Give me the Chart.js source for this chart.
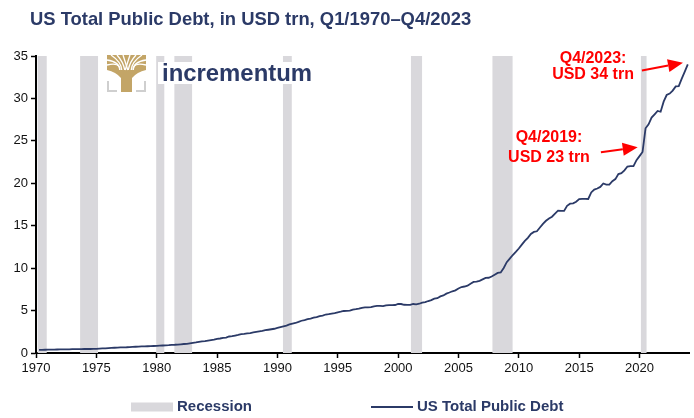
<!DOCTYPE html>
<html>
<head>
<meta charset="utf-8">
<script src="https://cdn.jsdelivr.net/npm/chart.js@4.4.1/dist/chart.umd.min.js"></script>
<style>
  body { margin: 0; background: #fff; }
  #wrap { width: 694px; height: 418px; }
</style>
</head>
<body>
<div id="wrap"><canvas id="myChart" width="694" height="418"></canvas></div>
<script>
// US total public debt, USD trn, quarterly Q1/1970 - Q4/2023
const firstYear = 1970;
const lastYear = 2023;

const debt1970s = [
  0.372, 0.370, 0.383, 0.389,  0.391, 0.400, 0.414, 0.424,
  0.428, 0.427, 0.436, 0.449,  0.458, 0.458, 0.466, 0.469,
  0.474, 0.474, 0.482, 0.492,  0.510, 0.534, 0.556, 0.576,
  0.599, 0.620, 0.634, 0.653,  0.665, 0.675, 0.698, 0.718,
  0.736, 0.750, 0.771, 0.789,  0.797, 0.805, 0.826, 0.845
];
const debt1980s = [
  0.863, 0.884, 0.907, 0.930,  0.964, 0.971, 0.997, 1.028,
  1.062, 1.080, 1.142, 1.197,  1.245, 1.319, 1.377, 1.410,
  1.463, 1.518, 1.572, 1.663,  1.710, 1.774, 1.823, 1.945,
  1.986, 2.059, 2.125, 2.214,  2.250, 2.310, 2.350, 2.431,
  2.487, 2.547, 2.602, 2.684,  2.740, 2.799, 2.857, 2.953
];
const debt1990s = [
  3.053, 3.143, 3.233, 3.365,  3.465, 3.538, 3.665, 3.801,
  3.881, 3.984, 4.065, 4.177,  4.230, 4.352, 4.411, 4.535,
  4.576, 4.646, 4.693, 4.800,  4.864, 4.951, 4.974, 4.989,
  5.118, 5.161, 5.225, 5.323,  5.380, 5.376, 5.413, 5.502,
  5.542, 5.548, 5.526, 5.614,  5.651, 5.638, 5.656, 5.776
];
const debt2000s = [
  5.773, 5.686, 5.674, 5.662,  5.773, 5.727, 5.807, 5.943,
  6.006, 6.126, 6.228, 6.405,  6.460, 6.670, 6.783, 6.998,
  7.131, 7.274, 7.379, 7.596,  7.777, 7.836, 7.933, 8.170,
  8.371, 8.420, 8.507, 8.680,  8.849, 8.867, 9.008, 9.229,
  9.437, 9.492, 10.025, 10.700, 11.127, 11.545, 11.910, 12.311
];
const debt2010s = [
  12.773, 13.202, 13.562, 14.025,  14.270, 14.343, 14.790, 15.223,
  15.582, 15.856, 16.066, 16.433,  16.771, 16.738, 16.738, 17.352,
  17.601, 17.632, 17.824, 18.141,  18.152, 18.152, 18.151, 18.922,
  19.264, 19.382, 19.573, 19.977,  19.846, 19.845, 20.245, 20.493,
  21.090, 21.195, 21.516, 21.974,  22.028, 22.023, 22.719, 23.201
];
const debt2020s = [
  23.687, 26.477, 26.945, 27.748,  28.133, 28.529, 28.429, 29.617,
  30.401, 30.569, 30.929, 31.420,  31.458, 32.332, 33.167, 34.001
];

// recession periods (decimal years)
const recessionStart = [1970.12, 1973.65, 1979.95, 1981.45, 1990.45, 2001.05, 2007.8, 2020.1];
const recessionEnd   = [1970.9, 1975.15, 1980.65, 1982.95, 1991.2, 2002.0, 2009.5, 2020.6];

const xTicks = [1970, 1975, 1980, 1985, 1990, 1995, 2000, 2005, 2010, 2015, 2020];
const yTicks = [0, 5, 10, 15, 20, 25, 30, 35];

const titleText = 'US Total Public Debt, in USD trn, Q1/1970\u2013Q4/2023';
const debtLabel = 'US Total Public Debt';
const recessionLabel = 'Recession';

const NAVY = '#2b3a67';
const GREY = '#d9d8dc';
const FONT = "'Liberation Sans', Arial, sans-serif";

// quarter categories -> x position (end of quarter)
const quarterLabels = [];
for (let y = firstYear; y <= lastYear; y++) {
  for (let q = 1; q <= 4; q++) quarterLabels.push('Q' + q + '/' + y);
}
const debtValues = [].concat(debt1970s, debt1980s, debt1990s, debt2000s, debt2010s, debt2020s);
const debtPoints = quarterLabels.map((lbl, i) => {
  const parts = lbl.slice(1).split('/').map(Number);
  return { x: parts[1] + parts[0] / 4, y: debtValues[i] };
});

const yMax = yTicks[yTicks.length - 1];
const recessionPoints = [];
recessionStart.forEach((s, i) => {
  recessionPoints.push({ x: s, y: yMax }, { x: recessionEnd[i], y: yMax }, { x: recessionEnd[i], y: null });
});

const notes = [
  { lines: ['Q4/2023:', 'USD 34 trn'], x: 2016.15, y: [34.7, 32.75], from: [2020.2, 33.3], to: [2023.6, 34.2] },
  { lines: ['Q4/2019:', 'USD 23 trn'], x: 2012.5, y: [25.35, 23.05], from: [2016.8, 23.65], to: [2019.85, 24.25] }
];

function arrow(ctx, x1, y1, x2, y2) {
  const a = Math.atan2(y2 - y1, x2 - x1);
  const len = 15, hw = 6.5;
  const bx = x2 - len * Math.cos(a), by = y2 - len * Math.sin(a);
  ctx.beginPath();
  ctx.moveTo(x1, y1);
  ctx.lineTo(bx, by);
  ctx.stroke();
  ctx.beginPath();
  ctx.moveTo(x2, y2);
  ctx.lineTo(bx + hw * Math.sin(a), by - hw * Math.cos(a));
  ctx.lineTo(bx - hw * Math.sin(a), by + hw * Math.cos(a));
  ctx.closePath();
  ctx.fill();
}

const decor = {
  id: 'decor',
  afterDraw(chart) {
    const ctx = chart.ctx;
    const xs = chart.scales.x, ys = chart.scales.y;
    ctx.save();

    // title
    ctx.fillStyle = NAVY;
    ctx.font = 'bold 18.4px ' + FONT;
    ctx.textAlign = 'left';
    ctx.textBaseline = 'middle';
    ctx.fillText(titleText, 30, 20);

    // logo: tree mark
    const gold = '#c3a567';
    ctx.fillStyle = gold;
    ctx.beginPath();
    ctx.moveTo(107, 55); ctx.lineTo(146, 55); ctx.lineTo(146, 70);
    ctx.quadraticCurveTo(137, 72, 132, 78); ctx.lineTo(132, 92); ctx.lineTo(121, 92); ctx.lineTo(121, 78);
    ctx.quadraticCurveTo(116, 72, 107, 70);
    ctx.closePath(); ctx.fill();
    // white gaps between branches
    ctx.strokeStyle = '#fff';
    ctx.lineWidth = 1.3;
    const gaps = [[107, 60], [107, 65], [111, 55], [117, 55], [123, 55], [130, 55], [136, 55], [142, 55], [146, 60], [146, 65]];
    gaps.forEach(t => {
      ctx.beginPath();
      ctx.moveTo((126.5 + t[0]) / 2 + (t[0] < 126 ? 3 : -3), 70);
      ctx.quadraticCurveTo((126.5 * 2 + t[0]) / 3, 62, t[0], t[1]);
      ctx.stroke();
    });
    ctx.strokeStyle = '#cfcfcf';
    ctx.lineWidth = 2;
    ctx.beginPath();
    ctx.moveTo(108, 81); ctx.lineTo(108, 91); ctx.lineTo(117, 91);
    ctx.moveTo(145, 81); ctx.lineTo(145, 91); ctx.lineTo(136, 91);
    ctx.stroke();

    // logo: word mark
    ctx.fillStyle = '#fff';
    ctx.fillRect(158, 62, 158, 22);
    ctx.fillStyle = NAVY;
    ctx.font = 'bold 22px ' + FONT;
    const w = ctx.measureText('incrementum').width;
    const fs = 22 * 150 / w;
    ctx.font = 'bold ' + fs.toFixed(1) + 'px ' + FONT;
    ctx.fillText('incrementum', 162, 74);

    // annotations
    ctx.fillStyle = '#ff0000';
    ctx.strokeStyle = '#ff0000';
    ctx.lineWidth = 2;
    ctx.font = 'bold 16px ' + FONT;
    ctx.textAlign = 'center';
    notes.forEach(n => {
      n.lines.forEach((t, i) => ctx.fillText(t, xs.getPixelForValue(n.x), ys.getPixelForValue(n.y[i])));
      arrow(ctx, xs.getPixelForValue(n.from[0]), ys.getPixelForValue(n.from[1]),
                 xs.getPixelForValue(n.to[0]), ys.getPixelForValue(n.to[1]));
    });

    // legend
    const ds = chart.data.datasets;
    const ly = 407;
    ctx.textAlign = 'left';
    ctx.font = 'bold 15px ' + FONT;
    ctx.fillStyle = ds[1].backgroundColor;
    ctx.fillRect(131, ly - 4.5, 42, 9);
    ctx.fillStyle = NAVY;
    ctx.fillText(ds[1].label, 177, ly);
    ctx.strokeStyle = ds[0].borderColor;
    ctx.lineWidth = 2;
    ctx.beginPath();
    ctx.moveTo(371, ly); ctx.lineTo(413, ly);
    ctx.stroke();
    ctx.fillText(ds[0].label, 417, ly);

    ctx.restore();
  }
};

new Chart(document.getElementById('myChart'), {
  type: 'line',
  data: {
    datasets: [
      {
        label: debtLabel,
        data: debtPoints,
        borderColor: NAVY,
        borderWidth: 1.8,
        pointRadius: 0,
        tension: 0,
        fill: false
      },
      {
        label: recessionLabel,
        data: recessionPoints,
        borderColor: 'rgba(0,0,0,0)',
        backgroundColor: GREY,
        borderWidth: 0,
        pointRadius: 0,
        spanGaps: false,
        fill: 'origin'
      }
    ]
  },
  options: {
    responsive: false,
    animation: false,
    layout: { padding: { left: 0, right: 5, top: 56, bottom: 35 } },
    plugins: {
      legend: { display: false },
      title: { display: false },
      tooltip: { enabled: false }
    },
    scales: {
      x: {
        type: 'linear',
        min: 1970,
        max: 2024.1,
        afterBuildTicks: s => { s.ticks = xTicks.map(v => ({ value: v })); },
        afterFit: s => { s.height = 30; },
        ticks: {
          callback: v => String(v),
          color: '#111',
          font: { family: FONT, size: 13 },
          padding: 3,
          maxRotation: 0
        },
        grid: { drawOnChartArea: false, drawTicks: true, tickLength: 5, tickColor: '#000', tickWidth: 1.5 },
        border: { color: '#000', width: 2 }
      },
      y: {
        min: 0,
        max: yMax,
        afterBuildTicks: s => { s.ticks = yTicks.map(v => ({ value: v })); },
        afterFit: s => { s.width = 36; },
        ticks: {
          color: '#111',
          font: { family: FONT, size: 13 },
          padding: 3
        },
        grid: { drawOnChartArea: false, drawTicks: true, tickLength: 5, tickColor: '#000', tickWidth: 1.5 },
        border: { color: '#000', width: 2 }
      }
    }
  },
  plugins: [decor]
});
</script>
</body>
</html>
